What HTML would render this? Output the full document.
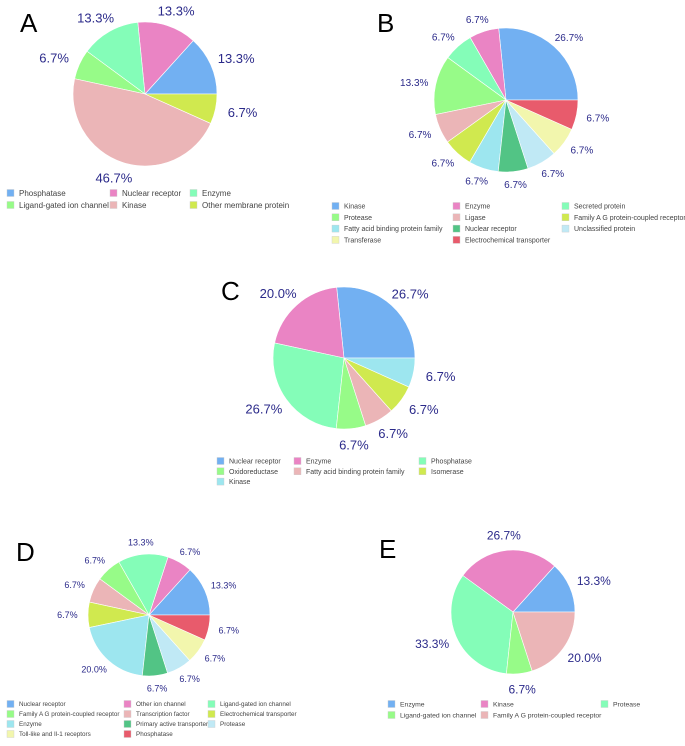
<!DOCTYPE html>
<html><head><meta charset="utf-8"><style>
body{margin:0;background:#fff;width:685px;height:746px;overflow:hidden;font-family:"Liberation Sans",Arial,sans-serif}
svg{position:absolute;left:0;top:0}
</style></head><body>
<svg id="chart" width="685" height="746"></svg>
<script>
const aCategories=["Phosphatase","Nuclear receptor","Enzyme","Ligand-gated ion channel","Kinase","Other membrane protein"];
const aValues=[13.3,13.3,13.3,6.7,46.7,6.7];
const bCategories=["Kinase","Enzyme","Secreted protein","Protease","Ligase","Family A G protein-coupled receptor","Fatty acid binding protein family","Nuclear receptor","Unclassified protein","Transferase","Electrochemical transporter"];
const bValues=[26.7,6.7,6.7,13.3,6.7,6.7,6.7,6.7,6.7,6.7,6.7];
const cCategories=["Nuclear receptor","Enzyme","Phosphatase","Oxidoreductase","Fatty acid binding protein family","Isomerase","Kinase"];
const cValues=[26.7,20.0,26.7,6.7,6.7,6.7,6.7];
const dCategories=["Nuclear receptor","Other ion channel","Ligand-gated ion channel","Family A G protein-coupled receptor","Transcription factor","Electrochemical transporter","Enzyme","Primary active transporter","Protease","Toll-like and Il-1 receptors","Phosphatase"];
const dValues=[13.3,6.7,13.3,6.7,6.7,6.7,20.0,6.7,6.7,6.7,6.7];
const eCategories=["Enzyme","Kinase","Protease","Ligand-gated ion channel","Family A G protein-coupled receptor"];
const eValues=[13.3,26.7,33.3,6.7,20.0];

const palette=["#72b0f2","#ea84c4","#84fdb8","#97fb88","#ebb5b7","#d0e94f","#9de6ef","#52c485","#c0e9f5","#f2f6ad","#e85b6c"];
const NS="http://www.w3.org/2000/svg";
const svg=document.getElementById('chart');
function mk(tag,attrs,parent){const e=document.createElementNS(NS,tag);for(const k in attrs)e.setAttribute(k,attrs[k]);(parent||svg).appendChild(e);return e;}

const panels=[
 {id:'a',letter:'A',lx:20,ly:32,lf:26,cx:145,cy:94,r:72,off:11,fs:13,cats:aCategories,vals:aValues,legX:[10,113,193],legY:193,legDy:12,legFs:8},
 {id:'b',letter:'B',lx:377,ly:32,lf:26,cx:506,cy:100,r:72,off:9,fs:10,cats:bCategories,vals:bValues,legX:[335,456,565],legY:206,legDy:11.3,legFs:7},
 {id:'c',letter:'C',lx:221,ly:300,lf:26,cx:344,cy:358,r:71,off:11,fs:13,cats:cCategories,vals:cValues,legX:[220,297,422],legY:461,legDy:10.3,legFs:7},
 {id:'d',letter:'D',lx:16,ly:561,lf:26,cx:149,cy:615,r:61,off:9,fs:9,cats:dCategories,vals:dValues,legX:[10,127,211],legY:704,legDy:10,legFs:6.3},
 {id:'e',letter:'E',lx:379,ly:558,lf:26,cx:513,cy:612,r:62,off:11,fs:12,cats:eCategories,vals:eValues,legX:[391,484,604],legY:704,legDy:11,legFs:6.8}
];

panels.forEach(p=>{
  const g=mk('g',{});
  
  
  const t=mk('text',{x:p.lx,y:p.ly,'font-size':p.lf,fill:'#000'},g);
  t.textContent=p.letter;
  
  
  const total=p.vals.reduce((s,v)=>s+v,0);
  let a0=0;
  p.vals.forEach((v,i)=>{
    const a1=a0+v/total*2*Math.PI;
    const x0=p.cx+p.r*Math.cos(a0),y0=p.cy-p.r*Math.sin(a0);
    const x1=p.cx+p.r*Math.cos(a1),y1=p.cy-p.r*Math.sin(a1);
    const large=(a1-a0)>Math.PI?1:0;
    const path=mk('path',{d:`M${p.cx},${p.cy}L${x0},${y0}A${p.r},${p.r} 0 ${large} 0 ${x1},${y1}Z`,fill:palette[i],stroke:'#fff','stroke-width':0.6},g);
    
    
    const am=(a0+a1)/2;
    const R=p.r+p.off;
    const w=p.fs*0.56*4.6, h=p.fs*0.75;
    const lx=p.cx+R*Math.cos(am)+w/2*Math.cos(am);
    const ly=p.cy-R*Math.sin(am)-h/2*Math.sin(am);
    const lab=mk('text',{x:lx,y:ly+h/2,'text-anchor':'middle','font-size':p.fs,fill:'#2b2a8a'},g);
    lab.textContent=v.toFixed(1)+'%';
    
    
    a0=a1;
  });
  p.cats.forEach((c,i)=>{
    const col=i%3,row=Math.floor(i/3);
    const x=p.legX[col],y=p.legY+row*p.legDy;
    const lg=mk('g',{},g);
    
    
    mk('rect',{x:x-3,y:y-3.5,width:7,height:7,fill:palette[i],stroke:'#ccc','stroke-width':0.4},lg);
    const lt=mk('text',{x:x+9,y:y+p.legFs*0.35,'font-size':p.legFs,fill:'#444'},lg);
    lt.textContent=c;
  });
});
</script>
</body></html>
